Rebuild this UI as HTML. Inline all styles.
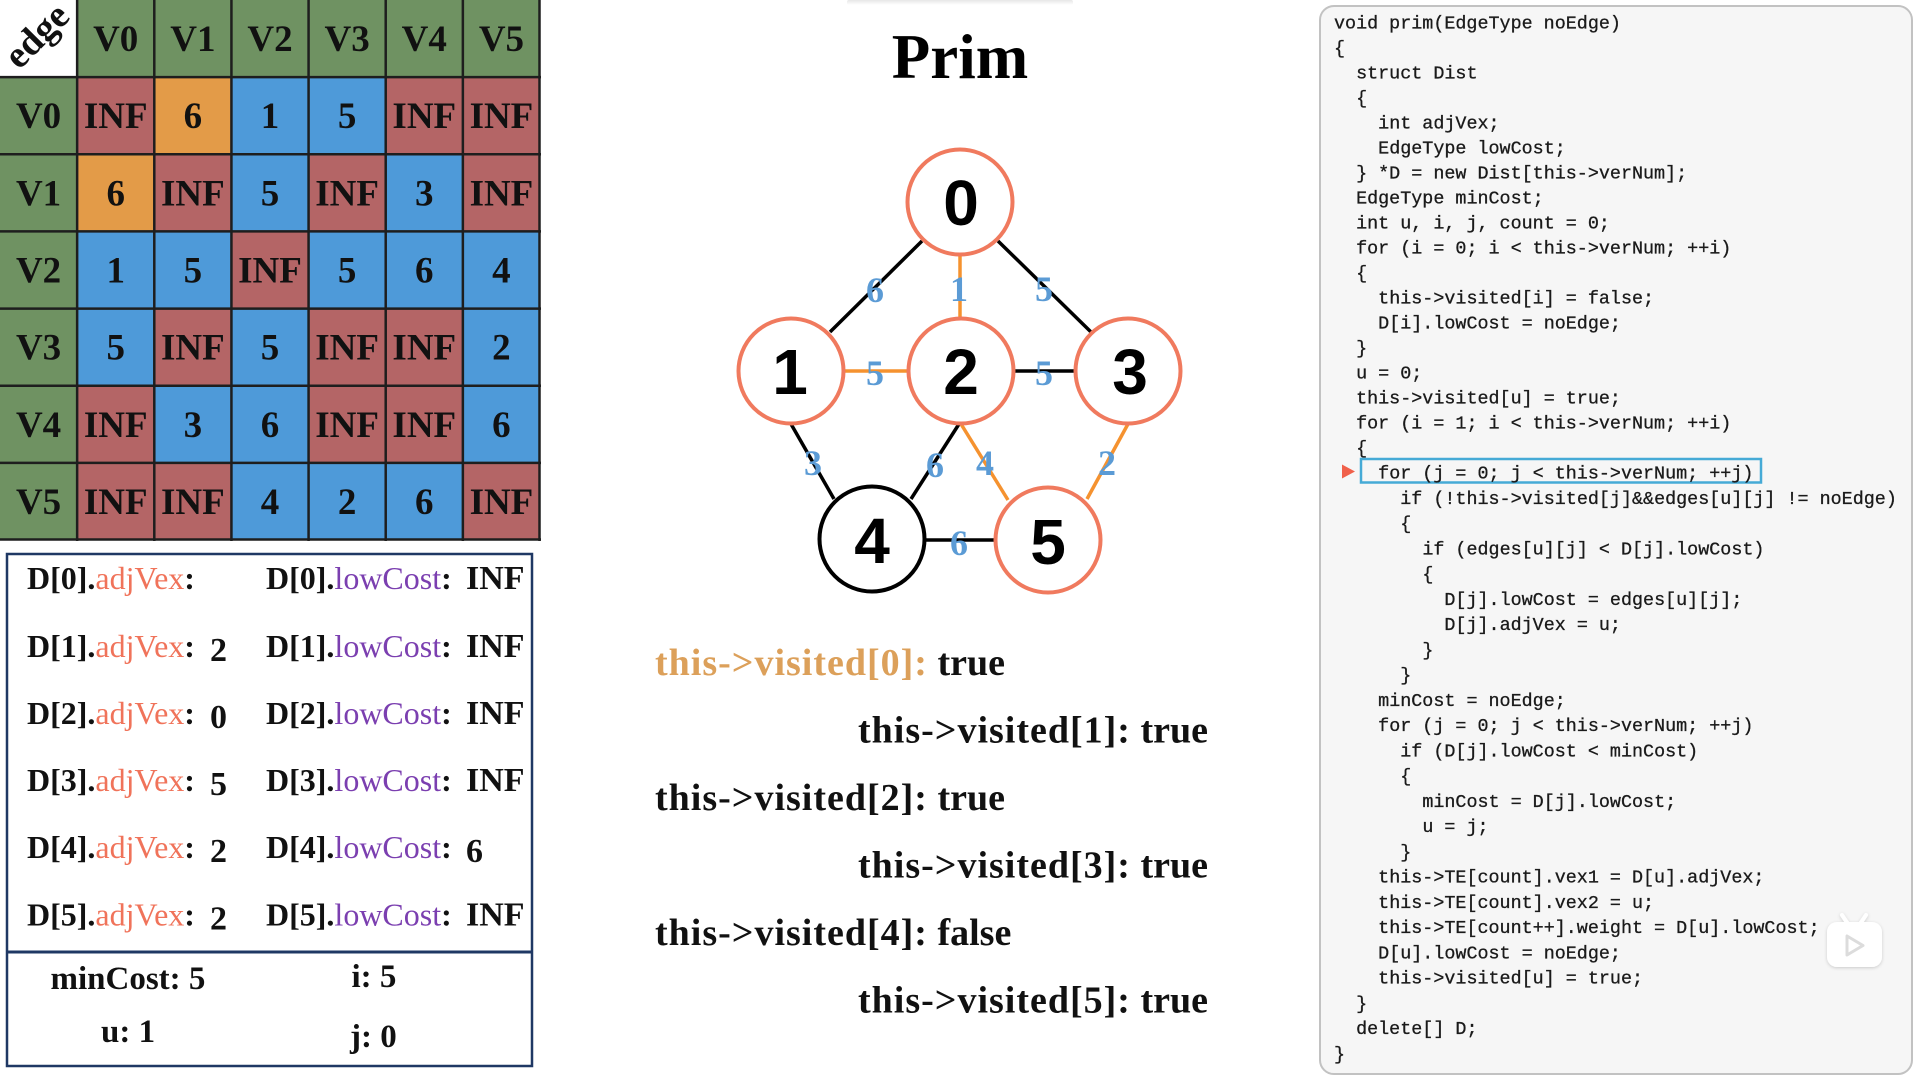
<!DOCTYPE html>
<html>
<head>
<meta charset="utf-8">
<style>
html,body{margin:0;padding:0;background:#fff;}
body{width:1920px;height:1080px;overflow:hidden;position:relative;}
svg{position:absolute;left:0;top:0;}
.serif{font-family:"Liberation Serif",serif;}
.tb{font-family:"Liberation Serif",serif;font-weight:bold;font-size:37px;fill:#111;}
.code{font-family:"Liberation Mono",monospace;font-size:18.4px;fill:#1a1a1a;stroke:#1a1a1a;stroke-width:0.3px;}
</style>
</head>
<body>
<svg width="1920" height="1080" viewBox="0 0 1920 1080" xmlns="http://www.w3.org/2000/svg">
<defs>
  <linearGradient id="topbar" x1="0" y1="0" x2="0" y2="1">
    <stop offset="0" stop-color="#e6e6e6"/>
    <stop offset="1" stop-color="#ffffff"/>
  </linearGradient>
  <filter id="sh" x="-30%" y="-30%" width="160%" height="160%">
    <feDropShadow dx="0" dy="1" stdDeviation="1.5" flood-color="#000" flood-opacity="0.18"/>
  </filter>
</defs>

<rect x="847" y="0" width="226" height="5" rx="2" fill="url(#topbar)"/>

<!-- ============ TABLE ============ -->
<g>
  <rect x="0" y="0" width="77.14" height="77.14" fill="#ffffff"/>
  <rect x="77.14" y="0" width="462.86" height="77.14" fill="#6f9262"/>
  <rect x="0" y="77.14" width="77.14" height="462.86" fill="#6f9262"/>
  <rect x="77.14" y="77.14" width="77.15" height="77.15" fill="#b46566"/>
  <rect x="154.29" y="77.14" width="77.14" height="77.15" fill="#e39b48"/>
  <rect x="231.43" y="77.14" width="77.14" height="77.15" fill="#4e9ad9"/>
  <rect x="308.57" y="77.14" width="77.14" height="77.15" fill="#4e9ad9"/>
  <rect x="385.71" y="77.14" width="77.15" height="77.15" fill="#b46566"/>
  <rect x="462.86" y="77.14" width="77.14" height="77.15" fill="#b46566"/>
  <rect x="77.14" y="154.29" width="77.15" height="77.14" fill="#e39b48"/>
  <rect x="154.29" y="154.29" width="77.14" height="77.14" fill="#b46566"/>
  <rect x="231.43" y="154.29" width="77.14" height="77.14" fill="#4e9ad9"/>
  <rect x="308.57" y="154.29" width="77.14" height="77.14" fill="#b46566"/>
  <rect x="385.71" y="154.29" width="77.15" height="77.14" fill="#4e9ad9"/>
  <rect x="462.86" y="154.29" width="77.14" height="77.14" fill="#b46566"/>
  <rect x="77.14" y="231.43" width="77.15" height="77.14" fill="#4e9ad9"/>
  <rect x="154.29" y="231.43" width="77.14" height="77.14" fill="#4e9ad9"/>
  <rect x="231.43" y="231.43" width="77.14" height="77.14" fill="#b46566"/>
  <rect x="308.57" y="231.43" width="77.14" height="77.14" fill="#4e9ad9"/>
  <rect x="385.71" y="231.43" width="77.15" height="77.14" fill="#4e9ad9"/>
  <rect x="462.86" y="231.43" width="77.14" height="77.14" fill="#4e9ad9"/>
  <rect x="77.14" y="308.57" width="77.15" height="77.14" fill="#4e9ad9"/>
  <rect x="154.29" y="308.57" width="77.14" height="77.14" fill="#b46566"/>
  <rect x="231.43" y="308.57" width="77.14" height="77.14" fill="#4e9ad9"/>
  <rect x="308.57" y="308.57" width="77.14" height="77.14" fill="#b46566"/>
  <rect x="385.71" y="308.57" width="77.15" height="77.14" fill="#b46566"/>
  <rect x="462.86" y="308.57" width="77.14" height="77.14" fill="#4e9ad9"/>
  <rect x="77.14" y="385.71" width="77.15" height="77.15" fill="#b46566"/>
  <rect x="154.29" y="385.71" width="77.14" height="77.15" fill="#4e9ad9"/>
  <rect x="231.43" y="385.71" width="77.14" height="77.15" fill="#4e9ad9"/>
  <rect x="308.57" y="385.71" width="77.14" height="77.15" fill="#b46566"/>
  <rect x="385.71" y="385.71" width="77.15" height="77.15" fill="#b46566"/>
  <rect x="462.86" y="385.71" width="77.14" height="77.15" fill="#4e9ad9"/>
  <rect x="77.14" y="462.86" width="77.15" height="77.14" fill="#b46566"/>
  <rect x="154.29" y="462.86" width="77.14" height="77.14" fill="#b46566"/>
  <rect x="231.43" y="462.86" width="77.14" height="77.14" fill="#4e9ad9"/>
  <rect x="308.57" y="462.86" width="77.14" height="77.14" fill="#4e9ad9"/>
  <rect x="385.71" y="462.86" width="77.15" height="77.14" fill="#4e9ad9"/>
  <rect x="462.86" y="462.86" width="77.14" height="77.14" fill="#b46566"/>

  <g stroke="#1e1e1e" stroke-width="2.5">
    <line x1="77.14" y1="0" x2="77.14" y2="541"/>
    <line x1="154.29" y1="0" x2="154.29" y2="541"/>
    <line x1="231.43" y1="0" x2="231.43" y2="541"/>
    <line x1="308.57" y1="0" x2="308.57" y2="541"/>
    <line x1="385.71" y1="0" x2="385.71" y2="541"/>
    <line x1="462.86" y1="0" x2="462.86" y2="541"/>
    <line x1="539.5" y1="0" x2="539.5" y2="541"/>
    <line x1="0" y1="77.14" x2="541" y2="77.14"/>
    <line x1="0" y1="154.29" x2="541" y2="154.29"/>
    <line x1="0" y1="231.43" x2="541" y2="231.43"/>
    <line x1="0" y1="308.57" x2="541" y2="308.57"/>
    <line x1="0" y1="385.71" x2="541" y2="385.71"/>
    <line x1="0" y1="462.86" x2="541" y2="462.86"/>
    <line x1="0" y1="539.5" x2="541" y2="539.5"/>
  </g>

  <text class="serif" font-weight="bold" font-size="38" fill="#111" text-anchor="middle" transform="translate(39,38) rotate(-45)" x="0" y="9">edge</text>

  <g class="tb" text-anchor="middle">
    <text x="115.71" y="51">V0</text>
    <text x="192.86" y="51">V1</text>
    <text x="270" y="51">V2</text>
    <text x="347.14" y="51">V3</text>
    <text x="424.29" y="51">V4</text>
    <text x="501.43" y="51">V5</text>
    <text x="38.57" y="128.2">V0</text>
    <text x="38.57" y="205.4">V1</text>
    <text x="38.57" y="282.5">V2</text>
    <text x="38.57" y="359.6">V3</text>
    <text x="38.57" y="436.8">V4</text>
    <text x="38.57" y="513.9">V5</text>
    <text x="115.71" y="128.2">INF</text>
    <text x="192.86" y="128.2">6</text>
    <text x="270" y="128.2">1</text>
    <text x="347.14" y="128.2">5</text>
    <text x="424.29" y="128.2">INF</text>
    <text x="501.43" y="128.2">INF</text>
    <text x="115.71" y="205.4">6</text>
    <text x="192.86" y="205.4">INF</text>
    <text x="270" y="205.4">5</text>
    <text x="347.14" y="205.4">INF</text>
    <text x="424.29" y="205.4">3</text>
    <text x="501.43" y="205.4">INF</text>
    <text x="115.71" y="282.5">1</text>
    <text x="192.86" y="282.5">5</text>
    <text x="270" y="282.5">INF</text>
    <text x="347.14" y="282.5">5</text>
    <text x="424.29" y="282.5">6</text>
    <text x="501.43" y="282.5">4</text>
    <text x="115.71" y="359.6">5</text>
    <text x="192.86" y="359.6">INF</text>
    <text x="270" y="359.6">5</text>
    <text x="347.14" y="359.6">INF</text>
    <text x="424.29" y="359.6">INF</text>
    <text x="501.43" y="359.6">2</text>
    <text x="115.71" y="436.8">INF</text>
    <text x="192.86" y="436.8">3</text>
    <text x="270" y="436.8">6</text>
    <text x="347.14" y="436.8">INF</text>
    <text x="424.29" y="436.8">INF</text>
    <text x="501.43" y="436.8">6</text>
    <text x="115.71" y="513.9">INF</text>
    <text x="192.86" y="513.9">INF</text>
    <text x="270" y="513.9">4</text>
    <text x="347.14" y="513.9">2</text>
    <text x="424.29" y="513.9">6</text>
    <text x="501.43" y="513.9">INF</text>
  </g>
</g>

<!-- ============ D PANEL ============ -->
<rect x="7" y="554" width="525" height="512" fill="none" stroke="#1f3864" stroke-width="2.5"/>
<line x1="7" y1="952" x2="532" y2="952" stroke="#1f3864" stroke-width="3"/>

<g class="serif" font-size="32" fill="#111">
  <text x="27" y="589"><tspan font-weight="bold">D[0].</tspan><tspan fill="#f0735a">adjVex</tspan><tspan font-weight="bold">:</tspan></text>
  <text x="27" y="657"><tspan font-weight="bold">D[1].</tspan><tspan fill="#f0735a">adjVex</tspan><tspan font-weight="bold">:</tspan><tspan x="210" y="661" font-weight="bold" font-size="34">2</tspan></text>
  <text x="27" y="724"><tspan font-weight="bold">D[2].</tspan><tspan fill="#f0735a">adjVex</tspan><tspan font-weight="bold">:</tspan><tspan x="210" y="728" font-weight="bold" font-size="34">0</tspan></text>
  <text x="27" y="791"><tspan font-weight="bold">D[3].</tspan><tspan fill="#f0735a">adjVex</tspan><tspan font-weight="bold">:</tspan><tspan x="210" y="795" font-weight="bold" font-size="34">5</tspan></text>
  <text x="27" y="858"><tspan font-weight="bold">D[4].</tspan><tspan fill="#f0735a">adjVex</tspan><tspan font-weight="bold">:</tspan><tspan x="210" y="862" font-weight="bold" font-size="34">2</tspan></text>
  <text x="27" y="925.5"><tspan font-weight="bold">D[5].</tspan><tspan fill="#f0735a">adjVex</tspan><tspan font-weight="bold">:</tspan><tspan x="210" y="929.5" font-weight="bold" font-size="34">2</tspan></text>

  <text x="266" y="589"><tspan font-weight="bold">D[0].</tspan><tspan fill="#7b3fb0">lowCost</tspan><tspan font-weight="bold">:</tspan><tspan x="466" font-weight="bold" font-size="34">INF</tspan></text>
  <text x="266" y="657"><tspan font-weight="bold">D[1].</tspan><tspan fill="#7b3fb0">lowCost</tspan><tspan font-weight="bold">:</tspan><tspan x="466" font-weight="bold" font-size="34">INF</tspan></text>
  <text x="266" y="724"><tspan font-weight="bold">D[2].</tspan><tspan fill="#7b3fb0">lowCost</tspan><tspan font-weight="bold">:</tspan><tspan x="466" font-weight="bold" font-size="34">INF</tspan></text>
  <text x="266" y="791"><tspan font-weight="bold">D[3].</tspan><tspan fill="#7b3fb0">lowCost</tspan><tspan font-weight="bold">:</tspan><tspan x="466" font-weight="bold" font-size="34">INF</tspan></text>
  <text x="266" y="858"><tspan font-weight="bold">D[4].</tspan><tspan fill="#7b3fb0">lowCost</tspan><tspan font-weight="bold">:</tspan><tspan x="466" y="862" font-weight="bold" font-size="34">6</tspan></text>
  <text x="266" y="925.5"><tspan font-weight="bold">D[5].</tspan><tspan fill="#7b3fb0">lowCost</tspan><tspan font-weight="bold">:</tspan><tspan x="466" font-weight="bold" font-size="34">INF</tspan></text>
</g>

<g class="serif" font-size="33" font-weight="bold" fill="#111">
  <text x="50.5" y="989">minCost: 5</text>
  <text x="351.5" y="987">i: 5</text>
  <text x="101" y="1042">u: 1</text>
  <text x="350" y="1047">j: 0</text>
</g>

<!-- ============ TITLE ============ -->
<text class="serif" x="960" y="78" font-size="63" font-weight="bold" fill="#000" text-anchor="middle">Prim</text>

<!-- ============ GRAPH ============ -->
<g stroke-width="3.5" stroke-linecap="butt">
  <line x1="922" y1="241" x2="830" y2="332" stroke="#000"/>
  <line x1="998" y1="241" x2="1091" y2="332" stroke="#000"/>
  <line x1="960" y1="255" x2="960" y2="318" stroke="#f5922f"/>
  <line x1="844" y1="371" x2="908" y2="371" stroke="#f5922f"/>
  <line x1="1014" y1="371" x2="1076" y2="371" stroke="#000"/>
  <line x1="791" y1="424" x2="834" y2="499" stroke="#000"/>
  <line x1="959" y1="424" x2="911" y2="499" stroke="#000"/>
  <line x1="961" y1="424" x2="1008" y2="500" stroke="#f5922f"/>
  <line x1="1128" y1="424" x2="1087" y2="499" stroke="#f5922f"/>
  <line x1="925" y1="540" x2="995" y2="540" stroke="#000"/>
</g>

<g fill="#fff" stroke-width="4">
  <circle cx="960" cy="202" r="52.5" stroke="#f07a5e"/>
  <circle cx="791" cy="371" r="52.5" stroke="#f07a5e"/>
  <circle cx="961" cy="371" r="52.5" stroke="#f07a5e"/>
  <circle cx="1128" cy="371" r="52.5" stroke="#f07a5e"/>
  <circle cx="872" cy="539" r="52.5" stroke="#000"/>
  <circle cx="1048" cy="540" r="52.5" stroke="#f07a5e"/>
</g>

<g font-family="'Liberation Sans',sans-serif" font-weight="bold" font-size="64" fill="#000" text-anchor="middle">
  <text x="961" y="225">0</text>
  <text x="790" y="394">1</text>
  <text x="961" y="394">2</text>
  <text x="1130" y="394">3</text>
  <text x="872" y="563">4</text>
  <text x="1048" y="564">5</text>
</g>

<g class="serif" font-size="36" font-weight="bold" fill="#5b9bd5" text-anchor="middle">
  <text x="875" y="302">6</text>
  <text x="959" y="301">1</text>
  <text x="1044" y="301">5</text>
  <text x="875" y="385">5</text>
  <text x="1044" y="385">5</text>
  <text x="813" y="475">3</text>
  <text x="935" y="477">6</text>
  <text x="985" y="475">4</text>
  <text x="1107" y="475">2</text>
  <text x="959" y="555">6</text>
</g>

<!-- ============ VISITED ============ -->
<g class="serif" font-size="38" font-weight="bold" fill="#111">
  <text x="655" y="675"><tspan fill="#dca05a" letter-spacing="1">this-&gt;visited[0]:</tspan><tspan> true</tspan></text>
  <text x="858" y="742.5"><tspan letter-spacing="1">this-&gt;visited[1]:</tspan><tspan> true</tspan></text>
  <text x="655" y="810"><tspan letter-spacing="1">this-&gt;visited[2]:</tspan><tspan> true</tspan></text>
  <text x="858" y="877.5"><tspan letter-spacing="1">this-&gt;visited[3]:</tspan><tspan> true</tspan></text>
  <text x="655" y="945"><tspan letter-spacing="1">this-&gt;visited[4]:</tspan><tspan> false</tspan></text>
  <text x="858" y="1012.5"><tspan letter-spacing="1">this-&gt;visited[5]:</tspan><tspan> true</tspan></text>
</g>

<!-- ============ CODE PANEL ============ -->
<rect x="1320" y="6" width="592" height="1068" rx="14" fill="#f6f6f6" stroke="#c2c2c2" stroke-width="2"/>

<rect x="1361" y="459" width="400" height="23.5" fill="none" stroke="#45aad6" stroke-width="2.5"/>
<polygon points="1342,464.5 1355,471.5 1342,478.5" fill="#f0604a"/>

<g class="code">
<text x="1334" y="28.5">void prim(EdgeType noEdge)</text>
<text x="1334" y="53.5">{</text>
<text x="1356.08" y="78.5">struct Dist</text>
<text x="1356.08" y="103.5">{</text>
<text x="1378.16" y="128.5">int adjVex;</text>
<text x="1378.16" y="153.5">EdgeType lowCost;</text>
<text x="1356.08" y="178.5">} *D = new Dist[this-&gt;verNum];</text>
<text x="1356.08" y="203.5">EdgeType minCost;</text>
<text x="1356.08" y="228.5">int u, i, j, count = 0;</text>
<text x="1356.08" y="253.5">for (i = 0; i &lt; this-&gt;verNum; ++i)</text>
<text x="1356.08" y="278.5">{</text>
<text x="1378.16" y="303.5">this-&gt;visited[i] = false;</text>
<text x="1378.16" y="328.5">D[i].lowCost = noEdge;</text>
<text x="1356.08" y="353.5">}</text>
<text x="1356.08" y="378.5">u = 0;</text>
<text x="1356.08" y="403.5">this-&gt;visited[u] = true;</text>
<text x="1356.08" y="428.5">for (i = 1; i &lt; this-&gt;verNum; ++i)</text>
<text x="1356.08" y="453.5">{</text>
<text x="1378.16" y="478.5">for (j = 0; j &lt; this-&gt;verNum; ++j)</text>
<text x="1400.24" y="503.8">if (!this-&gt;visited[j]&amp;&amp;edges[u][j] != noEdge)</text>
<text x="1400.24" y="529">{</text>
<text x="1422.32" y="554.3">if (edges[u][j] &lt; D[j].lowCost)</text>
<text x="1422.32" y="579.5">{</text>
<text x="1444.4" y="604.8">D[j].lowCost = edges[u][j];</text>
<text x="1444.4" y="630">D[j].adjVex = u;</text>
<text x="1422.32" y="655.3">}</text>
<text x="1400.24" y="680.5">}</text>
<text x="1378.16" y="705.8">minCost = noEdge;</text>
<text x="1378.16" y="731">for (j = 0; j &lt; this-&gt;verNum; ++j)</text>
<text x="1400.24" y="756.3">if (D[j].lowCost &lt; minCost)</text>
<text x="1400.24" y="781.5">{</text>
<text x="1422.32" y="806.8">minCost = D[j].lowCost;</text>
<text x="1422.32" y="832">u = j;</text>
<text x="1400.24" y="857.3">}</text>
<text x="1378.16" y="882.5">this-&gt;TE[count].vex1 = D[u].adjVex;</text>
<text x="1378.16" y="907.8">this-&gt;TE[count].vex2 = u;</text>
<text x="1378.16" y="933">this-&gt;TE[count++].weight = D[u].lowCost;</text>
<text x="1378.16" y="958.3">D[u].lowCost = noEdge;</text>
<text x="1378.16" y="983.5">this-&gt;visited[u] = true;</text>
<text x="1356.08" y="1008.8">}</text>
<text x="1356.08" y="1034">delete[] D;</text>
<text x="1334" y="1059.3">}</text>
</g>

<!-- play icon -->
<g filter="url(#sh)">
  <line x1="1842" y1="915" x2="1848" y2="924" stroke="#fff" stroke-width="4" stroke-linecap="round"/>
  <line x1="1866" y1="915" x2="1860" y2="924" stroke="#fff" stroke-width="4" stroke-linecap="round"/>
  <rect x="1827" y="922" width="55" height="45" rx="10" fill="#ffffff"/>
</g>
<polygon points="1847,936 1847,955 1863,945.5" fill="none" stroke="#dcdcdc" stroke-width="3" stroke-linejoin="round"/>

</svg>
</body>
</html>
